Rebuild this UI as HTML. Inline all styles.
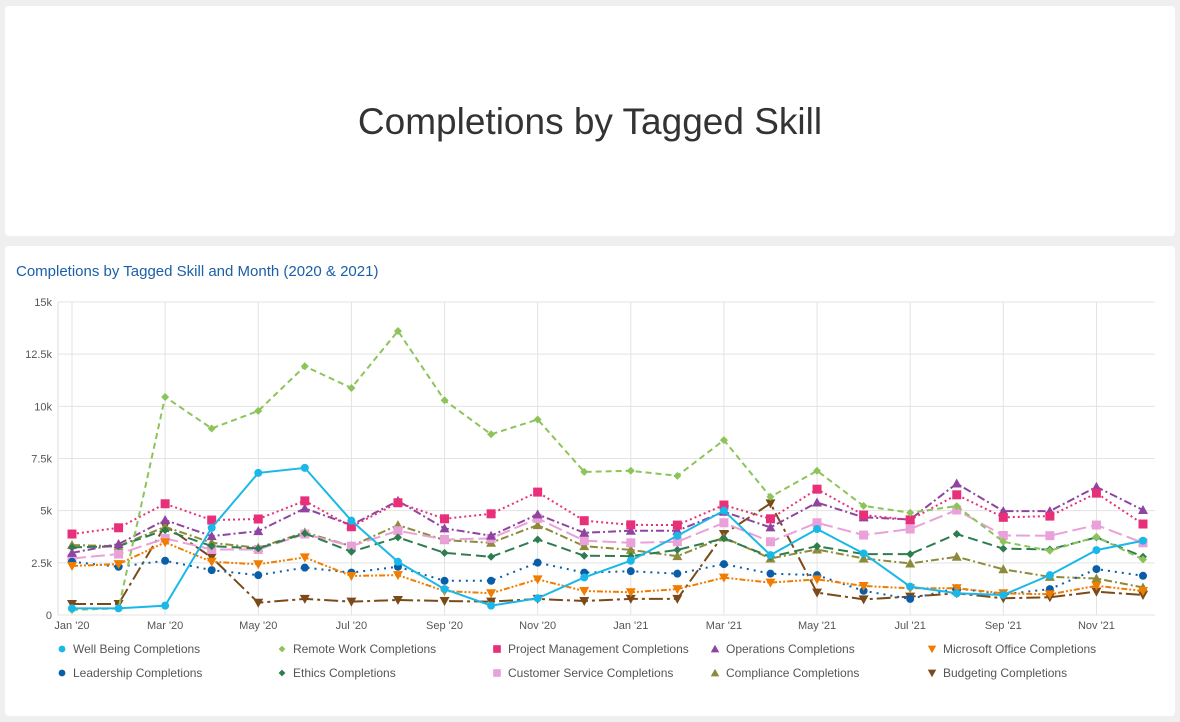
<!DOCTYPE html>
<html><head><meta charset="utf-8"><style>
body{margin:0;background:#efefef;width:1180px;height:722px;overflow:hidden;font-family:"Liberation Sans",sans-serif;}
.card{position:absolute;background:#fff;border-radius:4px;}
</style></head><body>
<div class="card" style="left:5px;top:6px;width:1170px;height:230px;">
<div style="position:absolute;left:0;right:0;top:95px;text-align:center;font-size:37px;color:#333;">Completions by Tagged Skill</div>
</div>
<div class="card" style="left:5px;top:246px;width:1170px;height:470px;">
<div style="position:absolute;left:11px;top:17px;font-size:15px;color:#1a5fa8;">Completions by Tagged Skill and Month (2020 &amp; 2021)</div>
</div>
<svg id="chart" width="1180" height="722" style="position:absolute;left:0;top:0;font-family:'Liberation Sans',sans-serif;"></svg>
<script>
const months=["Jan '20","Feb '20","Mar '20","Apr '20","May '20","Jun '20","Jul '20","Aug '20","Sep '20","Oct '20","Nov '20","Dec '20","Jan '21","Feb '21","Mar '21","Apr '21","May '21","Jun '21","Jul '21","Aug '21","Sep '21","Oct '21","Nov '21","Dec '21"];
const yTicks=[0,2500,5000,7500,10000,12500,15000];
const yTickLabels=["0","2.5k","5k","7.5k","10k","12.5k","15k"];
const wellBeing=[0.32,0.32,0.45,4.18,6.81,7.05,4.52,2.55,1.24,0.45,0.8,1.8,2.6,3.8,5.0,2.87,4.12,2.95,1.36,1.04,0.96,1.91,3.11,3.56];
const remoteWork=[0.24,0.32,10.45,8.94,9.78,11.92,10.88,13.61,10.29,8.66,9.37,6.86,6.91,6.67,8.38,5.66,6.91,5.23,4.9,5.22,3.51,3.08,3.75,2.66];
const projectMgmt=[3.88,4.18,5.33,4.55,4.6,5.47,4.23,5.38,4.61,4.85,5.89,4.52,4.32,4.31,5.27,4.61,6.03,4.79,4.56,5.76,4.68,4.74,5.84,4.36];
const operations=[2.98,3.4,4.55,3.78,4.02,5.11,4.31,5.47,4.15,3.8,4.82,3.94,4.04,4.04,4.95,4.2,5.39,4.68,4.58,6.3,4.98,4.98,6.14,5.03];
const msOffice=[2.35,2.44,3.48,2.55,2.43,2.76,1.87,1.91,1.15,1.04,1.71,1.15,1.09,1.24,1.79,1.55,1.71,1.39,1.28,1.28,1.04,0.99,1.4,1.15];
const leadership=[2.55,2.31,2.6,2.15,1.91,2.27,2.03,2.31,1.64,1.64,2.51,2.03,2.1,1.98,2.44,1.98,1.91,1.16,0.77,1.28,0.99,1.24,2.2,1.88];
const ethics=[3.24,3.3,4.07,3.3,3.19,3.91,3.03,3.72,2.98,2.79,3.62,2.84,2.82,3.12,3.67,2.79,3.3,2.92,2.92,3.88,3.18,3.14,3.72,2.79];
const customerService=[2.71,2.92,3.67,3.14,3.14,3.88,3.3,4.04,3.62,3.67,4.63,3.56,3.46,3.51,4.42,3.51,4.42,3.83,4.12,5.03,3.81,3.8,4.31,3.46];
const compliance=[3.35,3.3,4.23,3.46,3.22,3.96,3.3,4.31,3.59,3.46,4.31,3.3,3.12,2.82,3.72,2.71,3.14,2.71,2.47,2.79,2.19,1.83,1.75,1.32];
const budgeting=[0.53,0.53,4.28,2.76,0.59,0.77,0.64,0.72,0.67,0.64,0.77,0.67,0.77,0.77,3.88,5.35,1.07,0.75,0.88,1.04,0.8,0.85,1.12,0.96];
const series=[
 ["Well Being Completions",wellBeing,"#1ab8e8","","circle","well-being"],
 ["Remote Work Completions",remoteWork,"#8dc45a","6,4","diamond","remote-work"],
 ["Project Management Completions",projectMgmt,"#e8307a","2,3","square","project-management"],
 ["Operations Completions",operations,"#8e44a0","8,3,2,3","tri","operations"],
 ["Microsoft Office Completions",msOffice,"#f07d00","6,2,2,2,2,2","tridown","microsoft-office"],
 ["Leadership Completions",leadership,"#0a5ea8","2,5","circle","leadership"],
 ["Ethics Completions",ethics,"#2e7d4f","10,5","diamond","ethics"],
 ["Customer Service Completions",customerService,"#eaa0d8","14,5","square","customer-service"],
 ["Compliance Completions",compliance,"#8b8b3a","8,3,2,3","tri","compliance"],
 ["Budgeting Completions",budgeting,"#7b4a1a","14,4,3,4","tridown","budgeting"]
];
const NS="http://www.w3.org/2000/svg",svg=document.getElementById('chart');
const X0=72,X1=1143,Y0=615,Y1=302,PL=58,PR=1155;
const xs=i=>X0+(X1-X0)*i/(months.length-1);
const ys=v=>Y0-(Y0-Y1)*v/15000;
function el(t,a,p){const e=document.createElementNS(NS,t);for(const k in a)e.setAttribute(k,a[k]);(p||svg).appendChild(e);return e;}
yTicks.forEach((t,i)=>{
 const g=el('line',{x1:PL,x2:PR,y1:ys(t),y2:ys(t),stroke:'#e3e3e3','stroke-width':1});
 
 
 const tx=el('text',{x:52,y:ys(t)+4,'text-anchor':'end','font-size':11,fill:'#555'});tx.textContent=yTickLabels[i];
 
 
});
months.forEach((m,i)=>{
 if(i%2)return;
 const g=el('line',{x1:xs(i),x2:xs(i),y1:Y1,y2:Y0,stroke:'#e3e3e3','stroke-width':1});
 
 
 const tx=el('text',{x:xs(i),y:629,'text-anchor':'middle','font-size':11,fill:'#555'});tx.textContent=m;
 
 
});
const ax=el('line',{x1:PL,x2:PL,y1:Y1,y2:Y0,stroke:'#ddd'});


function marker(shape,x,y,c,s,parent){
 s=s||1;let e;
 if(shape==='circle')e=el('circle',{cx:x,cy:y,r:4*s,fill:c},parent);
 else if(shape==='square')e=el('rect',{x:x-4.5*s,y:y-4.5*s,width:9*s,height:9*s,fill:c},parent);
 else if(shape==='diamond')e=el('polygon',{points:`${x},${y-4*s} ${x+4*s},${y} ${x},${y+4*s} ${x-4*s},${y}`,fill:c},parent);
 else if(shape==='tri')e=el('polygon',{points:`${x},${y-5*s} ${x+5*s},${y+4*s} ${x-5*s},${y+4*s}`,fill:c},parent);
 else e=el('polygon',{points:`${x},${y+5*s} ${x+5*s},${y-4*s} ${x-5*s},${y-4*s}`,fill:c},parent);
 return e;
}
series.slice().reverse().forEach(s=>{
 const g=el('g',{});
 
 
 const p=el('polyline',{points:s[1].map((v,i)=>xs(i)+','+ys(v*1000)).join(' '),fill:'none',stroke:s[2],'stroke-width':2,'stroke-dasharray':s[3]},g);
 
 
 s[1].forEach((v,i)=>{
  const m=marker(s[4],xs(i),ys(v*1000),s[2],1,g);
  
  
 });
});
const colX=[62,282,497,715,932];
series.forEach((s,i)=>{
 const r=Math.floor(i/5),c=i%5,x=colX[c],y=649+r*24;
 const g=el('g',{});
 
 
 marker(s[4],x,y,s[2],0.85,g);
 const t=el('text',{x:x+11,y:y+4,'font-size':12,fill:'#555'},g);t.textContent=s[0];
});
</script>
</body></html>
